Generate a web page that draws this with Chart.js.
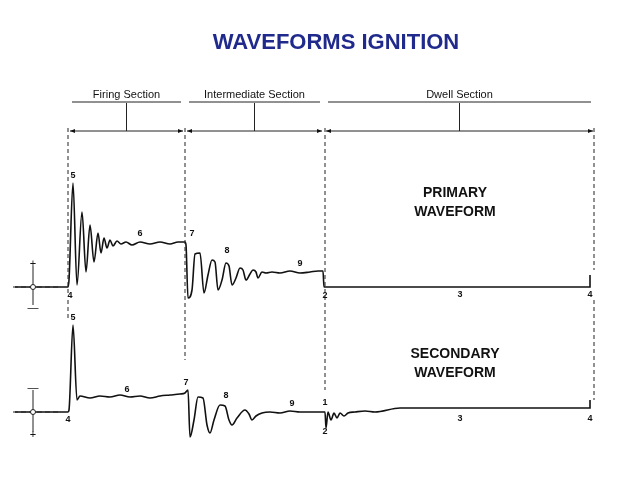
<!DOCTYPE html>
<html>
<head>
<meta charset="utf-8">
<script src="https://cdn.jsdelivr.net/npm/chart.js@4/dist/chart.umd.min.js"></script>
<style>
html,body{margin:0;padding:0;background:#fff;}
#wrap{width:638px;height:479px;position:relative;}
</style>
</head>
<body>
<div id="wrap"><canvas id="myChart"></canvas></div>
<script>
// traces (x = time position, y = level, screen-like units)
const primaryX = [15,68,69,73,77,82,86,90,94,98,101,104,107,110,113,117,121,126,132,140,150,160,170,178,185,186,188,192,195,200,204,208,212,215,218,222,226,229,232,236,240,243,246,250,253,256,258,262,266,272,280,290,300,310,318,323,324,590,590];
const primaryY = [287,287,280,183,285,212,272,225,262,233,253,238,248,240,246,241,244,242,245,242,244,242,244,242,242,245,298,290,254,253,293,275,260,262,290,280,263,266,285,278,268,270,280,274,270,272,278,272,273,272,273,271,273,272,271,271,287,287,275];
const secondaryX = [15,68,69,73,77,80,90,100,110,120,130,140,150,160,170,180,185,188,190,194,198,203,207,210,214,220,225,229,232,237,245,249,252,256,262,270,280,290,300,310,320,325,326,328,331,334,337,340,344,348,355,365,375,400,450,500,550,590,590];
const secondaryY = [412,412,410,325,400,396,398,396,397,395,397,396,398,396,395,394,393,390,437,420,397,398,425,433,420,405,406,420,425,418,410,414,420,416,413,412,413,411,412,412,412,412,428,412,420,413,418,413,416,413,412,411,412,408,408,408,408,408,400];
const marks = [
  {t:'5',x:73,y:178},{t:'6',x:140,y:236},{t:'7',x:192,y:236},{t:'8',x:227,y:253},{t:'9',x:300,y:266},
  {t:'4',x:70,y:298},{t:'2',x:325,y:298},{t:'3',x:460,y:297},{t:'4',x:590,y:297},
  {t:'5',x:73,y:320},{t:'6',x:127,y:392},{t:'7',x:186,y:385},{t:'8',x:226,y:398},{t:'9',x:292,y:406},
  {t:'1',x:325,y:405},{t:'4',x:68,y:422},{t:'2',x:325,y:434},{t:'3',x:460,y:421},{t:'4',x:590,y:421}
];
const sections = [
  {name:'Firing Section',from:70,to:183},
  {name:'Intermediate Section',from:187,to:322},
  {name:'Dwell Section',from:326,to:593}
];

function pts(xs, ys) { return xs.map((x, i) => ({x: x, y: ys[i]})); }

const diagram = {
  id: 'diagram',
  afterDraw(chart) {
    const c = chart.ctx, sx = chart.scales.x, sy = chart.scales.y;
    const X = v => sx.getPixelForValue(v), Y = v => sy.getPixelForValue(v);
    c.save();
    c.fillStyle = '#1f2a8c';
    c.font = 'bold 22px "Liberation Sans", Arial, sans-serif';
    c.textAlign = 'center';
    c.fillText('WAVEFORMS IGNITION', X(336), Y(49));
    c.fillStyle = '#111'; c.strokeStyle = '#222';
    // dashed verticals
    c.setLineDash([4, 3]); c.lineWidth = 1;
    [[68,128,296],[68,300,318],[185,128,360],[325,128,390],[594,128,270],[594,300,400]].forEach(l => {
      c.beginPath(); c.moveTo(X(l[0]), Y(l[1])); c.lineTo(X(l[0]), Y(l[2])); c.stroke();
    });
    c.setLineDash([]);
    // section brackets
    c.font = '11px "Liberation Sans", Arial, sans-serif';
    sections.forEach(s => {
      const m = (s.from + s.to) / 2;
      c.fillText(s.name, X(m), Y(98));
      c.beginPath(); c.moveTo(X(s.from+2), Y(102)); c.lineTo(X(s.to-2), Y(102)); c.stroke();
      c.beginPath(); c.moveTo(X(m), Y(103)); c.lineTo(X(m), Y(131)); c.stroke();
      c.beginPath(); c.moveTo(X(s.from), Y(131)); c.lineTo(X(s.to), Y(131)); c.stroke();
      [[s.from, 1], [s.to, -1]].forEach(a => {
        c.beginPath(); c.moveTo(X(a[0]), Y(131)); c.lineTo(X(a[0] + 5*a[1]), Y(129)); c.lineTo(X(a[0] + 5*a[1]), Y(133)); c.fill();
      });
    });
    // big labels
    c.font = 'bold 14px "Liberation Sans", Arial, sans-serif';
    c.fillText('PRIMARY', X(455), Y(197)); c.fillText('WAVEFORM', X(455), Y(216));
    c.fillText('SECONDARY', X(455), Y(358)); c.fillText('WAVEFORM', X(455), Y(377));
    c.font = 'bold 9px "Liberation Sans", Arial, sans-serif';
    marks.forEach(m => c.fillText(m.t, X(m.x), Y(m.y)));
    // polarity symbols
    c.lineWidth = 1;
    [[287,'+',263,'\u2014',311],[412,'\u2014',387,'+',438]].forEach(p => {
      c.setLineDash([5,3]); c.beginPath(); c.moveTo(X(13), Y(p[0])); c.lineTo(X(60), Y(p[0])); c.stroke(); c.setLineDash([]);
      c.beginPath(); c.moveTo(X(33), Y(p[2]+3)); c.lineTo(X(33), Y(p[4]-6)); c.stroke();
      c.fillStyle = '#fff'; c.beginPath(); c.arc(X(33), Y(p[0]), 2.5, 0, 7); c.fill(); c.stroke(); c.fillStyle = '#111';
      c.font = '11px "Liberation Sans", Arial, sans-serif';
      c.fillText(p[1], X(33), Y(p[2]+4)); c.fillText(p[3], X(33), Y(p[4]));
    });
    c.restore();
  }
};

const config = {
  type: 'line',
  data: {
    datasets: [
      {label: 'Primary', data: pts(primaryX, primaryY), borderColor: '#111', borderWidth: 1.6, pointRadius: 0, cubicInterpolationMode: 'monotone'},
      {label: 'Secondary', data: pts(secondaryX, secondaryY), borderColor: '#111', borderWidth: 1.6, pointRadius: 0, cubicInterpolationMode: 'monotone'}
    ]
  },
  options: {
    responsive: true, maintainAspectRatio: false, animation: false,
    layout: {padding: 0},
    plugins: {legend: {display: false}, tooltip: {enabled: false}},
    scales: {
      x: {type: 'linear', min: 0, max: 638, display: false},
      y: {type: 'linear', min: 0, max: 479, reverse: true, display: false}
    }
  },
  plugins: [diagram]
};

const myChart = new Chart(document.getElementById('myChart'), config);
</script>
</body>
</html>
